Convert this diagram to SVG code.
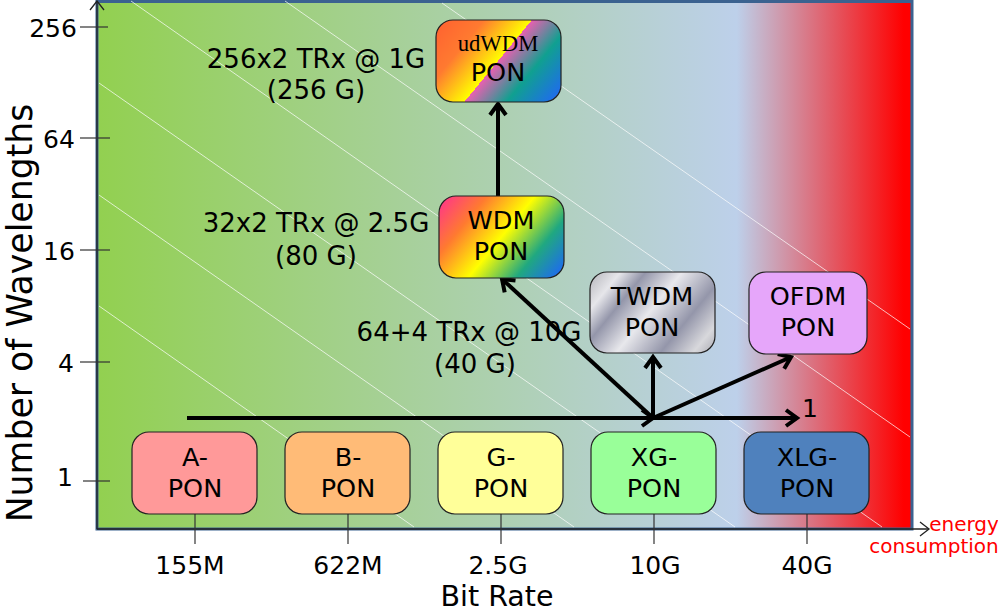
<svg xmlns="http://www.w3.org/2000/svg" width="998" height="613" viewBox="0 0 998 613">
<style>
text{font-family:"DejaVu Sans","Liberation Sans",sans-serif;fill:#000;text-anchor:middle;font-size:25px}
.lab{font-size:26px}
.n rect{stroke:#222;stroke-width:1.2}
.n text{font-size:25.5px}
.hatch line{stroke:#fff;stroke-width:1;opacity:.7}
.thick{stroke:#000;stroke-width:4;fill:none;stroke-linecap:butt}
.thin{stroke:#222;stroke-width:1.3;fill:none}
.tick{stroke:#333;stroke-width:1.2}
</style>
<defs>
<marker id="thickHead" markerUnits="userSpaceOnUse" markerWidth="22" markerHeight="22" refX="17" refY="11" orient="auto"><path d="M6 3 L17 11 L6 19" fill="none" stroke="#000" stroke-width="4"/></marker>
<marker id="thinHead" markerUnits="userSpaceOnUse" markerWidth="20" markerHeight="20" refX="16" refY="10" orient="auto"><path d="M7 3 L16 10 L7 17" fill="none" stroke="#222" stroke-width="1.3"/></marker>
<linearGradient id="bg" gradientUnits="userSpaceOnUse" x1="97" y1="0" x2="912" y2="0">
<stop offset="0" stop-color="#92D050"/><stop offset=".785" stop-color="#BDD0EA"/><stop offset=".99" stop-color="#FF0000"/>
</linearGradient>
<linearGradient id="ud" gradientUnits="userSpaceOnUse" x1="441" y1="14" x2="555" y2="108">
<stop offset="0" stop-color="#FF6030"/><stop offset=".25" stop-color="#FF7A30"/><stop offset=".5" stop-color="#FFFF00"/><stop offset=".5" stop-color="#E860B0"/><stop offset=".72" stop-color="#10A090"/><stop offset=".95" stop-color="#1E6FE8"/>
</linearGradient>
<linearGradient id="wdm" gradientUnits="userSpaceOnUse" x1="444" y1="190" x2="559" y2="284">
<stop offset="0" stop-color="#FF2F92"/><stop offset=".25" stop-color="#FF7A30"/><stop offset=".5" stop-color="#FFFF00"/><stop offset=".75" stop-color="#20A880"/><stop offset=".95" stop-color="#1E6FE8"/>
</linearGradient>
<linearGradient id="tw" gradientUnits="userSpaceOnUse" x1="595" y1="266" x2="710" y2="360">
<stop offset="0" stop-color="#B4B4BA"/><stop offset=".16" stop-color="#E6E6EA"/><stop offset=".29" stop-color="#9496AA"/><stop offset=".48" stop-color="#E8E8EC"/><stop offset=".71" stop-color="#9496AA"/><stop offset=".88" stop-color="#D8D8DC"/><stop offset="1" stop-color="#A8A8B0"/>
</linearGradient>
</defs>
<g id="plot">
<rect x="97" y="1.5" width="815" height="527.5" fill="url(#bg)" stroke="#3B6290" stroke-width="3"/>
<g class="hatch">
<line x1="442" y1="3" x2="910" y2="329"/>
<line x1="285" y1="1" x2="910" y2="437"/>
<line x1="131" y1="1" x2="882" y2="527"/>
<line x1="99" y1="83" x2="735" y2="527"/>
<line x1="99" y1="195" x2="574" y2="527"/>
<line x1="99" y1="306" x2="414" y2="527"/>
</g>
</g>
<g id="axes">
<line class="thin" x1="97" y1="529" x2="97" y2="1" marker-end="url(#thinHead)"/>
<line class="thin" x1="97" y1="529" x2="929" y2="529" marker-end="url(#thinHead)"/>
<line class="tick" x1="80" y1="27" x2="108" y2="27"/>
<line class="tick" x1="80" y1="138" x2="110" y2="138"/>
<line class="tick" x1="80" y1="250" x2="110" y2="250"/>
<line class="tick" x1="80" y1="362" x2="110" y2="362"/>
<line class="tick" x1="83" y1="481" x2="110" y2="481"/>
<line class="tick" x1="195" y1="514" x2="195" y2="544"/>
<line class="tick" x1="348" y1="514" x2="348" y2="544"/>
<line class="tick" x1="501" y1="514" x2="501" y2="544"/>
<line class="tick" x1="654" y1="514" x2="654" y2="544"/>
<line class="tick" x1="807" y1="514" x2="807" y2="544"/>
<text x="53" y="37">256</text>
<text x="59" y="148">64</text>
<text x="59" y="260">16</text>
<text x="66" y="372">4</text>
<text x="65" y="486">1</text>
<text x="190" y="574">155M</text>
<text x="348" y="574">622M</text>
<text x="498" y="574">2.5G</text>
<text x="655" y="574">10G</text>
<text x="807" y="574">40G</text>
<text x="497" y="606" style="font-size:28.5px">Bit Rate</text>
<text transform="translate(32 313) rotate(-90)" style="font-size:34.7px">Number of Wavelengths</text>
<text x="964" y="531" style="font-size:20px;fill:#F00">energy</text>
<text x="934" y="553" style="font-size:20px;fill:#F00">consumption</text>
</g>
<g id="labels">
<text class="lab" x="316" y="68">256x2 TRx @ 1G</text>
<text class="lab" x="316" y="99">(256 G)</text>
<text class="lab" x="316" y="232">32x2 TRx @ 2.5G</text>
<text class="lab" x="316" y="265">(80 G)</text>
<text class="lab" x="469" y="341">64+4 TRx @ 10G</text>
<text class="lab" x="475" y="373">(40 G)</text>
<text x="810" y="417">1</text>
</g>
<g id="connectors">
<line class="thick" x1="187" y1="418" x2="653" y2="418" marker-end="url(#thickHead)"/>
<line class="thick" x1="653" y1="418" x2="797" y2="418" marker-end="url(#thickHead)"/>
<line class="thick" x1="653" y1="418" x2="502" y2="279" marker-end="url(#thickHead)"/>
<line class="thick" x1="653" y1="418" x2="653" y2="357" marker-end="url(#thickHead)"/>
<line class="thick" x1="653" y1="418" x2="791" y2="357" marker-end="url(#thickHead)"/>
<line class="thick" x1="498" y1="196" x2="498" y2="104" marker-end="url(#thickHead)"/>
</g>
<g id="node-a" class="n"><rect x="132" y="432" width="125" height="82" rx="17" fill="#FF9999"/><text x="195" y="466">A-</text><text x="195" y="497">PON</text></g>
<g id="node-b" class="n"><rect x="285" y="432" width="125" height="82" rx="17" fill="#FFBB77"/><text x="348" y="466">B-</text><text x="348" y="497">PON</text></g>
<g id="node-g" class="n"><rect x="438" y="432" width="125" height="82" rx="17" fill="#FFFF99"/><text x="501" y="466">G-</text><text x="501" y="497">PON</text></g>
<g id="node-xg" class="n"><rect x="591" y="432" width="125" height="82" rx="17" fill="#99FF99"/><text x="654" y="466">XG-</text><text x="654" y="497">PON</text></g>
<g id="node-xlg" class="n"><rect x="744" y="432" width="125" height="82" rx="17" fill="#4F81BD"/><text x="807" y="466">XLG-</text><text x="807" y="497">PON</text></g>
<g id="node-udwdm" class="n"><rect x="436" y="20" width="125" height="82" rx="17" fill="url(#ud)"/><text x="498" y="51" style="font-family:'Liberation Serif',serif;font-size:22.7px">udWDM</text><text x="498" y="81">PON</text></g>
<g id="node-wdm" class="n"><rect x="439" y="196" width="125" height="82" rx="17" fill="url(#wdm)"/><text x="501" y="229">WDM</text><text x="501" y="260">PON</text></g>
<g id="node-twdm" class="n"><rect x="590" y="272" width="125" height="81" rx="17" fill="url(#tw)"/><text x="652" y="305">TWDM</text><text x="652" y="336">PON</text></g>
<g id="node-ofdm" class="n"><rect x="749" y="272" width="118" height="82" rx="17" fill="#E6A6FA"/><text x="808" y="305">OFDM</text><text x="808" y="336">PON</text></g>
</svg>
